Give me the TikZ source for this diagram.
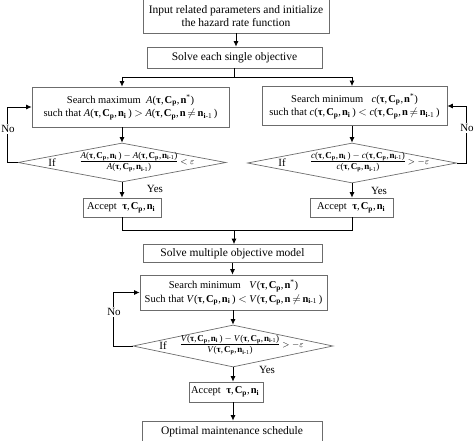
\documentclass[tikz,border=0pt]{standalone}
\usepackage{amsmath}
\usepackage{fontspec}
\setmainfont{Liberation Serif}
\usetikzlibrary{arrows.meta,shapes.geometric}
\newcommand{\cs}{,\hspace{0.1em}}
\newcommand{\tcp}{\textbf{τ}\cs\textbf{C}\textsubscript{\textbf{p}}\cs}
\newcommand{\nsubi}{\textbf{n}\textsubscript{\textbf{i}}\,}
\newcommand{\nim}{\textbf{n}\textsubscript{\textbf{i}-1}}
\newcommand{\nst}{\textbf{n}\textsuperscript{*}}
\newcommand{\nne}{\textbf{n}\,$\neq$\,\textbf{n}\textsubscript{\textbf{i}-1}\,}
\newcommand{\fn}[2]{\textit{#1}(\tcp #2)}
\newcommand{\myfrac}[1]{$\dfrac{\mbox{\fn{#1}{\nsubi}}-\mbox{\fn{#1}{\nim}}}{\mbox{\fn{#1}{\nim}}}$}
\begin{document}
\begin{tikzpicture}[x=1pt,y=-1pt,
  box/.style={draw=gray!85!black, line width=0.7pt, fill=white, inner sep=1pt, align=center, font=\fontsize{11.5}{13.5}\selectfont},
  sbox/.style={box, font=\fontsize{10.5}{13.5}\selectfont},
  dia/.style={draw=gray!85!black, line width=0.7pt, diamond, inner sep=0pt},
  ln/.style={line width=0.8pt},
  arr/.style={line width=0.8pt, -{Latex[length=5.5pt,width=5pt]}},
  lab/.style={font=\fontsize{11}{12}\selectfont, inner sep=1pt},
  fr/.style={font=\fontsize{9}{10}\selectfont, inner sep=0pt}]
\useasboundingbox (0,0) rectangle (474,441);
% boxes
\node[box, minimum width=186, minimum height=34] (top) at (236,16) {Input related parameters and initialize\\the hazard rate function};
\node[box, minimum width=175, minimum height=21] (solve1) at (234.5,57.5) {Solve each single objective};
\node[sbox, minimum width=197, minimum height=40] (searchL) at (130.5,107) {Search maximum \;\fn{A}{\nst}\\such that \fn{A}{\nsubi} $>$ \fn{A}{\nne}};
\node[dia, minimum width=208, minimum height=39] (diaL) at (122,162.5) {};
\node[sbox, minimum width=78, minimum height=19] (accL) at (122,207.5) {Accept \;\tcp\nsubi};
\node[sbox, minimum width=185, minimum height=39] (searchR) at (354.5,106) {Search minimum \;\;\fn{c}{\nst}\\such that \fn{c}{\nsubi} $<$ \fn{c}{\nne}};
\node[dia, minimum width=209, minimum height=40] (diaR) at (352,163) {};
\node[sbox, minimum width=83, minimum height=19] (accR) at (352,207.5) {Accept \;\tcp\nsubi};
\node[box, minimum width=179, minimum height=18] (solve2) at (232.5,253.5) {Solve multiple objective model};
\node[sbox, minimum width=187, minimum height=35] (search2) at (233.5,292.5) {Search minimum \;\;\fn{V}{\nst}\\Such that \fn{V}{\nsubi} $<$ \fn{V}{\nne}};
\node[dia, minimum width=200, minimum height=42] (dia2) at (233,346) {};
\node[sbox, minimum width=74, minimum height=20] (acc2) at (226,392) {Accept \;\tcp\nsubi};
\node[box, minimum width=180, minimum height=22] (final) at (232,432) {Optimal maintenance schedule};
% diamond texts
\node[lab] (ifL) at (52,163) {If};
\node[fr] (fL) at (129,162) {\myfrac{A}};
\node[fr, anchor=west] (gL) at (fL.east) {\,$<\varepsilon$};
\node[lab] (ifR) at (282,163) {If};
\node[fr] (fR) at (358,162) {\myfrac{c}};
\node[fr, anchor=west] (gR) at (fR.east) {\,$>-\varepsilon$};
\node[lab] (if2) at (163,346) {If};
\node[fr] (f2) at (230,345) {\myfrac{V}};
\node[fr, anchor=west] (g2) at (f2.east) {\,$>-\varepsilon$};
% coordinates
\coordinate (sL) at (122,77);
\coordinate (sR) at (352,77);
\coordinate (mL) at (122,230);
\coordinate (mR) at (352,230);
\coordinate (m) at (234,230);
\coordinate (nL) at (7,162.5);
\coordinate (nR) at (466,163);
\coordinate (n2) at (113,346);
% connectors
\draw[arr] (top.south) -- (top.south |- solve1.north);
\draw[ln] (solve1.south) -- (solve1.south |- sL);
\draw[ln] (sL) -- (sR);
\draw[arr] (sL) -- (sL |- searchL.north);
\draw[arr] (sR) -- (sR |- searchR.north);
\draw[arr] (sL |- searchL.south) -- (diaL.north);
\draw[arr] (sR |- searchR.south) -- (diaR.north);
\draw[arr] (diaL.south) -- (accL.north);
\draw[arr] (diaR.south) -- (accR.north);
\draw[ln] (accL.south) -- (mL) -- (mR) -- (accR.south);
\draw[arr] (m) -- (m |- solve2.north);
\draw[arr] (diaL.west) -- (nL) |- (searchL.west);
\draw[arr] (diaR.east) -- (nR) |- (searchR.east);
\draw[arr] (solve2.south) -- (solve2.south |- search2.north);
\draw[arr] (search2.south -| dia2.north) -- (dia2.north);
\draw[arr] (dia2.south) -- (dia2.south |- acc2.north);
\draw[arr] (dia2.south |- acc2.south) -- (dia2.south |- final.north);
\draw[arr] (dia2.west) -- (n2) |- (search2.west);
% labels
\node[lab, fill=white] (noL) at (8,129) {No};
\node[lab, fill=white] (noR) at (467,128) {No};
\node[lab, fill=white] (no2) at (114,312) {No};
\node[lab] (yesL) at (155,189) {Yes};
\node[lab] (yesR) at (379,191) {Yes};
\node[lab] (yes2) at (267,370) {Yes};
\end{tikzpicture}
\end{document}
